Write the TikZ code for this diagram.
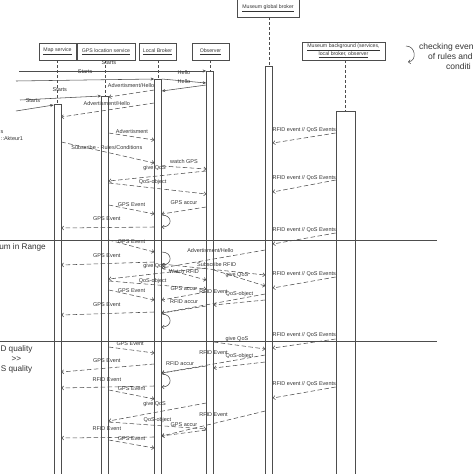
\documentclass[tikz,border=0pt]{standalone}
\usepackage{fontspec}
\setmainfont{Liberation Sans}
\usetikzlibrary{arrows.meta}
\definecolor{ink}{HTML}{333333}
\definecolor{wire}{HTML}{4D4D4D}

\begin{document}
\begin{tikzpicture}[x=1pt,y=-1pt,
  objbox/.style={draw=wire, line width=0.6pt, inner sep=1pt, font=\fontsize{5.2}{6}\selectfont, text=ink, align=center},
  actbar/.style={draw=wire, line width=0.6pt, minimum width=7, minimum height=420, anchor=north, inner sep=0pt},
  lifeline/.style={draw=wire, line width=0.5pt, dash pattern=on 3pt off 2pt},
  call/.style={draw=wire, line width=0.55pt, -{Stealth[length=3.5pt,width=3pt]}},
  reply/.style={draw=wire, line width=0.55pt, dash pattern=on 4.5pt off 2.5pt, -{Straight Barb[length=2pt,width=4pt]}},
  selfloop/.style={draw=wire, line width=0.55pt, -{Straight Barb[length=2pt,width=4pt]}},
  lbl/.style={font=\fontsize{5.5}{6}\selectfont, text=ink, inner sep=0pt},
  side/.style={font=\fontsize{8.2}{10}\selectfont, text=ink, inner sep=0pt},
  note/.style={font=\fontsize{8.5}{9.5}\selectfont, text=ink, inner sep=0pt},
  sep/.style={draw=wire, line width=0.6pt}]
\useasboundingbox (0,0) rectangle (474,474);
\clip (0,0) rectangle (474,474);

% objects
\node[objbox, minimum width=37, minimum height=17] (mapbox) at (57.5,51.5) {\underline{Map service}};
\node[objbox, minimum width=58, minimum height=17] (gpsbox) at (106,51.5) {\underline{GPS location service}};
\node[objbox, minimum width=37, minimum height=17] (brokerbox) at (157.5,51.5) {\underline{Local Broker}};
\node[objbox, minimum width=37, minimum height=17] (observerbox) at (210.5,51.5) {\underline{Observer}};
\node[objbox, minimum width=62, minimum height=18] (globalbox) at (268,8) {\underline{Museum global broker}};
\node[objbox, minimum width=83, minimum height=18] (backbox) at (343.5,51) {\underline{Museum background (services,}\\\underline{local broker, observer}};

% activations
\node[actbar] (mapbar) at (57.5,104) {};
\node[actbar] (gpsbar) at (105,96) {};
\node[actbar] (brokerbar) at (158,79) {};
\node[actbar] (observerbar) at (210,71) {};
\node[actbar] (globalbar) at (269,66) {};
\node[actbar, minimum width=19] (backbar) at (345.5,111) {};

\draw[lifeline] (mapbar.north |- mapbox.south) -- (mapbar.north);
\draw[lifeline] (gpsbar.north |- gpsbox.south) -- (gpsbar.north);
\draw[lifeline] (brokerbar.north |- brokerbox.south) -- (brokerbar.north);
\draw[lifeline] (observerbar.north |- observerbox.south) -- (observerbar.north);
\draw[lifeline] (globalbar.north |- globalbox.south) -- (globalbar.north);
\draw[lifeline] (backbar.north |- backbox.south) -- (backbar.north);

% fragments
\draw[sep] (0,240) -- (437,240);
\draw[sep] (0,341) -- (437,341);

\node[side, anchor=east] (rangetxt) at (46,247) {um in Range};
\node[side, align=center] (qualitytxt) at (16.5,359) {D quality\\>{}>\\S quality};
\node[lbl, anchor=east] (actortail) at (3.5,132) {s};
\node[lbl, anchor=west] (actorname) at (0.8,139) {::Akteur1};

\node[note, anchor=west] (checkA) at (419,47) {checking even};
\node[note, anchor=west] (checkB) at (428,56.5) {of rules and};
\node[note, anchor=west] (checkC) at (446,66) {conditi};
\draw[selfloop] (406,46) .. controls (416,46) and (417,61) .. (408,62);

% start up
\coordinate (actorA) at (19,71);
\coordinate (actorB) at (16,81);
\coordinate (actorC) at (20,100);
\coordinate (actorD) at (16,111);
\draw[call] (actorA) -- node[lbl, pos=0.48, yshift=8pt] {Starts} (observerbar.west |- 0,71);
\draw[call] (actorB) -- node[lbl, pos=0.5, yshift=8pt] {Starts} (brokerbar.west |- 0,79);
\draw[call] (actorC) -- node[lbl, pos=0.49, yshift=8pt] {Starts} (gpsbar.west |- 0,96);
\draw[call] (actorD) -- node[lbl, pos=0.45, yshift=8pt] {Starts} (mapbar.west |- 0,105);
\draw[call] (brokerbar.east |- 0,79) -- node[lbl, yshift=8pt] {Hello} (observerbar.west |- 0,83);
\draw[call] (observerbar.west |- 0,85) -- node[lbl, yshift=6pt] {Hello} (brokerbar.east |- 0,91);
\draw[reply] (brokerbar.west |- 0,90) -- node[lbl, pos=0.51, yshift=8.5pt] {Advertisment/Hello} (gpsbar.east |- 0,97);
\draw[reply] (brokerbar.west |- 0,103) -- node[lbl, pos=0.51, yshift=7pt] {Advertisment/Hello} (mapbar.east |- 0,117);
\draw[reply] (gpsbar.east |- 0,133) -- node[lbl, pos=0.51, yshift=5.5pt] {Advertisment} (brokerbar.west |- 0,140);
\draw[reply] (mapbar.east |- 0,142) -- node[lbl, pos=0.49, yshift=4.5pt] {Subscribe - Rules/Conditions} (brokerbar.west |- 0,163);
\draw[reply] (brokerbar.east |- 0,166) -- node[lbl, yshift=5.5pt] {watch GPS} (observerbar.west |- 0,169);
\draw[reply] (observerbar.west |- 0,171) -- node[lbl, pos=0.53, yshift=8pt] {give QoS} (gpsbar.east |- 0,181);
\draw[reply] (gpsbar.east |- 0,183) -- node[lbl, pos=0.45, yshift=6pt] {QoS-object} (observerbar.west |- 0,194);
\draw[reply] (gpsbar.east |- 0,205) -- node[lbl, yshift=4.5pt] {GPS Event} (brokerbar.west |- 0,214);
\draw[reply] (observerbar.west |- 0,207) -- node[lbl, yshift=7.5pt] {GPS accur} (brokerbar.east |- 0,214);
\draw[selfloop] (brokerbar.east |- 0,215) .. controls +(11,0) and +(11,0) .. (brokerbar.east |- 0,227);
\draw[reply] (brokerbar.west |- 0,227) -- node[lbl, pos=0.51, yshift=8.5pt] {GPS Event} (mapbar.east |- 0,228);

% museum in range
\draw[reply] (gpsbar.east |- 0,240) -- node[lbl, yshift=4pt] {GPS Event} (brokerbar.west |- 0,252);
\draw[selfloop] (brokerbar.east |- 0,252) .. controls +(11,0) and +(11,0) .. (brokerbar.east |- 0,265);
\draw[reply] (brokerbar.west |- 0,262) -- node[lbl, pos=0.51, yshift=7.5pt] {GPS Event} (mapbar.east |- 0,265);
\draw[reply] (globalbar.west |- 0,250) -- node[lbl, pos=0.53, yshift=9.5pt] {Advertisment/Hello} (brokerbar.east |- 0,268);
\draw[reply] (brokerbar.east |- 0,264) -- node[lbl, pos=0.53, yshift=5pt] {Subscribe RFID} (globalbar.west |- 0,275);
\draw[reply] (brokerbar.east |- 0,268) -- node[lbl, yshift=2.5pt] {Watch RFID} (observerbar.west |- 0,280);
\draw[reply] (observerbar.west |- 0,268) -- node[lbl, pos=0.53, yshift=8pt] {give QoS} (gpsbar.east |- 0,279);
\draw[reply] (observerbar.east |- 0,270) -- node[lbl, pos=0.45, yshift=2pt] {give QoS} (globalbar.west |- 0,286);
\draw[reply] (gpsbar.east |- 0,281) -- node[lbl, pos=0.45, yshift=3.5pt] {QoS-object} (observerbar.west |- 0,289);
\draw[reply] (gpsbar.east |- 0,290) -- node[lbl, yshift=4pt] {GPS Event} (brokerbar.west |- 0,300);
\draw[reply] (observerbar.west |- 0,292) -- node[lbl, yshift=7.5pt] {GPS accur} (brokerbar.east |- 0,300);
\draw[reply] (globalbar.west |- 0,294) -- node[lbl, yshift=12pt] {RFID Event} (brokerbar.east |- 0,313);
\draw[reply] (globalbar.west |- 0,300) -- node[lbl, yshift=8pt] {QoS-object} (observerbar.east |- 0,305);
\draw[reply] (observerbar.west |- 0,306) -- node[lbl, yshift=7.5pt] {RFID accur} (brokerbar.east |- 0,313);
\draw[selfloop] (brokerbar.east |- 0,314) .. controls +(11,0) and +(11,0) .. (brokerbar.east |- 0,327);
\draw[reply] (brokerbar.west |- 0,312) -- node[lbl, pos=0.51, yshift=8.5pt] {GPS Event} (mapbar.east |- 0,315);

% rfid quality >> gps quality
\draw[reply] (observerbar.east |- 0,342) -- node[lbl, pos=0.45, yshift=6pt] {give QoS} (globalbar.west |- 0,349);
\draw[reply] (gpsbar.east |- 0,347) -- node[lbl, pos=0.47, yshift=6pt] {GPS Event} (brokerbar.west |- 0,353);
\draw[reply] (globalbar.west |- 0,355) -- node[lbl, yshift=11pt] {RFID Event} (brokerbar.east |- 0,373);
\draw[reply] (globalbar.west |- 0,362) -- node[lbl, yshift=9pt] {QoS-object} (observerbar.east |- 0,368);
\draw[reply] (brokerbar.west |- 0,364) -- node[lbl, pos=0.51, yshift=7pt] {GPS Event} (mapbar.east |- 0,372);
\draw[reply] (observerbar.west |- 0,366) -- node[lbl, pos=0.59, yshift=6.5pt] {RFID accur} (brokerbar.east |- 0,373);
\draw[selfloop] (brokerbar.east |- 0,374) .. controls +(11,0) and +(11,0) .. (brokerbar.east |- 0,387);
\draw[reply] (brokerbar.west |- 0,386) -- node[lbl, pos=0.51, yshift=7pt] {RFID Event} (mapbar.east |- 0,388);
\draw[reply] (gpsbar.east |- 0,390) -- node[lbl, yshift=5.5pt] {GPS Event} (brokerbar.west |- 0,399);
\draw[reply] (observerbar.west |- 0,403) -- node[lbl, pos=0.53, yshift=8.5pt] {give QoS} (gpsbar.east |- 0,421);
\draw[reply] (globalbar.west |- 0,411) -- node[lbl, yshift=8.5pt] {RFID Event} (brokerbar.east |- 0,436);
\draw[reply] (gpsbar.east |- 0,422) -- node[lbl, yshift=5.5pt] {QoS-object} (observerbar.west |- 0,429);
\draw[reply] (observerbar.west |- 0,430) -- node[lbl, yshift=8pt] {GPS accur} (brokerbar.east |- 0,436);
\draw[reply] (brokerbar.west |- 0,437) -- node[lbl, pos=0.51, yshift=8.5pt] {RFID Event} (mapbar.east |- 0,438);
\draw[reply] (gpsbar.east |- 0,440) -- node[lbl, yshift=5pt] {GPS Event} (brokerbar.west |- 0,448);

% background events
\foreach \ya/\yb in {133/143,180/192,233/244,277/288,339/348,387/398}
  \draw[reply] (backbar.west |- 0,\ya) -- node[lbl, yshift=8pt] {RFID event // QoS Events} (globalbar.east |- 0,\yb);
\end{tikzpicture}
\end{document}
